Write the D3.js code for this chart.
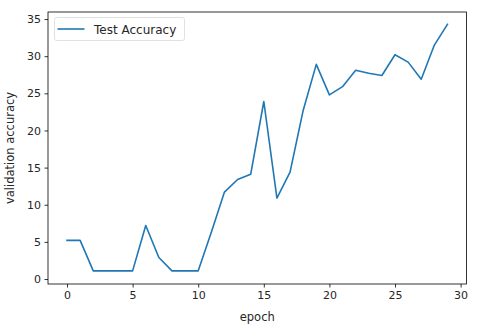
<!doctype html>
<html>
<head>
  <meta charset="utf8"/>
  <style>
    body { margin: 0; background: #fff; }
    text { font-family: 'DejaVu Sans', sans-serif; fill: #262626; }
  </style>
</head>
<body>
  <svg width='482' height='332'></svg>
  <script src="https://d3js.org/d3.v7.min.js"></script>
  <script>
    // values
    var epochs = d3.range(0, 30);
    var accuracy = [5.2, 5.2, 1.1, 1.1, 1.1, 1.1, 7.2, 2.9, 1.1, 1.1,
                    1.1, 6.3, 11.7, 13.4, 14.1, 23.9, 10.9, 14.4, 22.7, 28.9,
                    24.8, 25.9, 28.1, 27.7, 27.4, 30.2, 29.2, 26.9, 31.5, 34.3];
    var xTicks = [0, 5, 10, 15, 20, 25, 30];
    var yTicks = [0, 5, 10, 15, 20, 25, 30, 35];
    var seriesName = 'Test Accuracy';

    var svg = d3.select('svg'),
        pLeft = 48, pTop = 12, pRight = 466.5, pBottom = 284;

    var x = d3.scaleLinear().domain([-1.45, 30.45]).range([pLeft, pRight]);
    var y = d3.scaleLinear().domain([-0.67, 35.95]).range([pBottom, pTop]);

    var data = epochs.map(function(e, i) { return {epoch: e, acc: accuracy[i]}; });

    var line = d3.line()
                 .x(function(d) { return x(d.epoch); })
                 .y(function(d) { return y(d.acc); });

    svg.append('path')
       .datum(data)
       .attr('fill', 'none')
       .attr('stroke', '#1f77b4')
       .attr('stroke-width', 1.6)
       .attr('stroke-linejoin', 'round')
       .attr('stroke-linecap', 'square')
       .attr('d', line);

    var xAxis = svg.append('g')
       .attr('transform', 'translate(0,' + pBottom + ')')
       .call(d3.axisBottom(x).tickValues(xTicks).tickSize(3.5).tickPadding(3.5));
    var yAxis = svg.append('g')
       .attr('transform', 'translate(' + pLeft + ',0)')
       .call(d3.axisLeft(y).tickValues(yTicks).tickSize(3.5).tickPadding(3.5));

    [xAxis, yAxis].forEach(function(a) {
      a.select('.domain').remove();
      a.selectAll('line').attr('stroke', '#000').attr('stroke-width', 0.8);
      a.selectAll('text').attr('font-size', 11).attr('fill', '#262626')
       .attr('font-family', 'DejaVu Sans, sans-serif');
    });

    // frame
    svg.append('rect')
       .attr('x', pLeft).attr('y', pTop)
       .attr('width', pRight - pLeft).attr('height', pBottom - pTop)
       .attr('fill', 'none').attr('stroke', '#000').attr('stroke-width', 0.8);

    svg.append('text')
       .attr('x', (pLeft + pRight) / 2).attr('y', 321)
       .attr('text-anchor', 'middle').attr('font-size', 11.5)
       .text('epoch');

    svg.append('text')
       .attr('transform', 'translate(14,' + ((pTop + pBottom) / 2) + ') rotate(-90)')
       .attr('text-anchor', 'middle').attr('font-size', 11.5)
       .text('validation accuracy');

    // legend
    var lg = svg.append('g').attr('transform', 'translate(54.5,17.5)');
    lg.append('rect')
      .attr('width', 130).attr('height', 23).attr('rx', 2)
      .attr('fill', '#fff').attr('fill-opacity', 0.8)
      .attr('stroke', '#d9d9d9').attr('stroke-width', 0.8);
    lg.append('line')
      .attr('x1', 3).attr('x2', 30).attr('y1', 11.5).attr('y2', 11.5)
      .attr('stroke', '#1f77b4').attr('stroke-width', 1.6);
    lg.append('text')
      .attr('x', 39.5).attr('y', 16).attr('font-size', 12)
      .text(seriesName);
  </script>
</body>
</html>
